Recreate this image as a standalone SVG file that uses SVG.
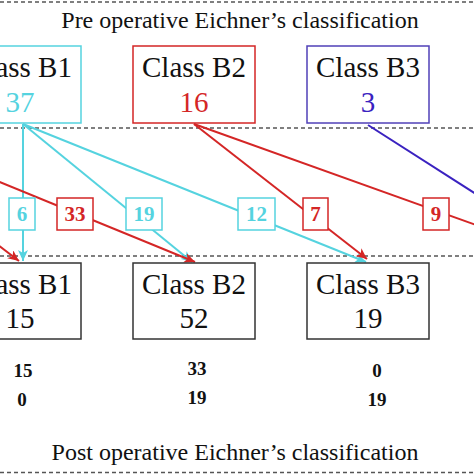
<svg xmlns="http://www.w3.org/2000/svg" width="474" height="474" viewBox="0 0 474 474">
<style>
text{font-family:"Liberation Serif","Times New Roman",serif;text-anchor:middle}
.title{font-size:24px;fill:#111}
.cls{font-size:29px;fill:#111}
.dash{stroke:#555;stroke-width:1.5;stroke-dasharray:4 3;fill:none}
.cy{stroke:#55d3df;stroke-width:2;fill:none}
.rd{stroke:#d42626;stroke-width:2;fill:none}
.bl{stroke:#3a22c0;stroke-width:2;fill:none}
.lbl{font-size:21px;font-weight:bold}
.cnt{font-size:19px;font-weight:bold;fill:#111}
.tc{fill:#55d3df}
.tr{fill:#d42626}
.tb{fill:#3a22c0}
</style>
<defs>
<marker id="ac" markerUnits="userSpaceOnUse" markerWidth="12" markerHeight="10" refX="11" refY="5" orient="auto"><path d="M0,0 L11,5 L0,10 L3,5 Z" fill="#55d3df"/></marker>
<marker id="ar" markerUnits="userSpaceOnUse" markerWidth="12" markerHeight="10" refX="11" refY="5" orient="auto"><path d="M0,0 L11,5 L0,10 L3,5 Z" fill="#d42626"/></marker>
</defs>
<rect width="474" height="474" fill="#fff"/>
<g id="guides">
<line class="dash" x1="0" y1="2" x2="474" y2="2"/>
<line class="dash" x1="0" y1="128" x2="474" y2="128"/>
<line class="dash" x1="0" y1="256" x2="474" y2="256"/>
<line class="dash" x1="0" y1="472.5" x2="474" y2="472.5"/>
</g>
<text class="title" x="240" y="28">Pre operative Eichner’s classification</text>
<text class="title" x="235" y="460">Post operative Eichner’s classification</text>
<g id="connectors">
<line class="cy" x1="23" y1="124" x2="23" y2="261" marker-end="url(#ac)"/>
<line class="cy" x1="23" y1="124" x2="192" y2="262" marker-end="url(#ac)"/>
<line class="cy" x1="23" y1="124" x2="366" y2="262" marker-end="url(#ac)"/>
<line class="rd" x1="194" y1="124" x2="367" y2="259" marker-end="url(#ar)"/>
<line class="rd" x1="194" y1="124" x2="490" y2="230"/>
<line class="rd" x1="-10" y1="178" x2="195" y2="262" marker-end="url(#ar)"/>
<line class="rd" x1="-10" y1="239" x2="19" y2="261" marker-end="url(#ar)"/>
<line class="bl" x1="368" y1="125" x2="490" y2="203"/>
</g>
<g id="edge-labels">
<g id="l6"><rect x="9" y="198" width="26" height="32" fill="#fff" stroke="#55d3df" stroke-width="1.5"/><text class="lbl tc" x="22" y="221">6</text></g>
<g id="l33"><rect x="57" y="198" width="36" height="32" fill="#fff" stroke="#d42626" stroke-width="1.5"/><text class="lbl tr" x="75" y="221">33</text></g>
<g id="l19"><rect x="126" y="198" width="36" height="32" fill="#fff" stroke="#55d3df" stroke-width="1.5"/><text class="lbl tc" x="144" y="221">19</text></g>
<g id="l12"><rect x="238" y="198" width="37" height="32" fill="#fff" stroke="#55d3df" stroke-width="1.5"/><text class="lbl tc" x="256.5" y="221">12</text></g>
<g id="l7"><rect x="303" y="198" width="25" height="32" fill="#fff" stroke="#d42626" stroke-width="1.5"/><text class="lbl tr" x="315.5" y="221">7</text></g>
<g id="l9"><rect x="423" y="198" width="26" height="32" fill="#fff" stroke="#d42626" stroke-width="1.5"/><text class="lbl tr" x="436" y="221">9</text></g>
</g>
<g id="pre-b1"><rect x="-41" y="46" width="122" height="77" fill="#fff" stroke="#55d3df" stroke-width="1.5"/><text class="cls" x="20" y="77">Class B1</text><text class="cls tc" x="20" y="112">37</text></g>
<g id="pre-b2"><rect x="133" y="46" width="122" height="77" fill="#fff" stroke="#d42626" stroke-width="1.5"/><text class="cls" x="194" y="77">Class B2</text><text class="cls tr" x="194" y="112">16</text></g>
<g id="pre-b3"><rect x="307" y="46" width="122" height="77" fill="#fff" stroke="#5040b8" stroke-width="1.5"/><text class="cls" x="368" y="77">Class B3</text><text class="cls tb" x="368" y="112">3</text></g>
<g id="post-b1"><rect x="-41" y="263" width="122" height="76" fill="#fff" stroke="#333" stroke-width="1.5"/><text class="cls" x="20" y="294">Class B1</text><text class="cls" x="20" y="328">15</text></g>
<g id="post-b2"><rect x="133" y="263" width="122" height="76" fill="#fff" stroke="#333" stroke-width="1.5"/><text class="cls" x="194" y="294">Class B2</text><text class="cls" x="194" y="328">52</text></g>
<g id="post-b3"><rect x="307" y="263" width="122" height="76" fill="#fff" stroke="#333" stroke-width="1.5"/><text class="cls" x="368" y="294">Class B3</text><text class="cls" x="368" y="328">19</text></g>
<g id="counts">
<text class="cnt" x="23" y="377">15</text>
<text class="cnt" x="22" y="406">0</text>
<text class="cnt" x="197" y="375">33</text>
<text class="cnt" x="197" y="404">19</text>
<text class="cnt" x="377" y="377">0</text>
<text class="cnt" x="377" y="406">19</text>
</g>
</svg>
